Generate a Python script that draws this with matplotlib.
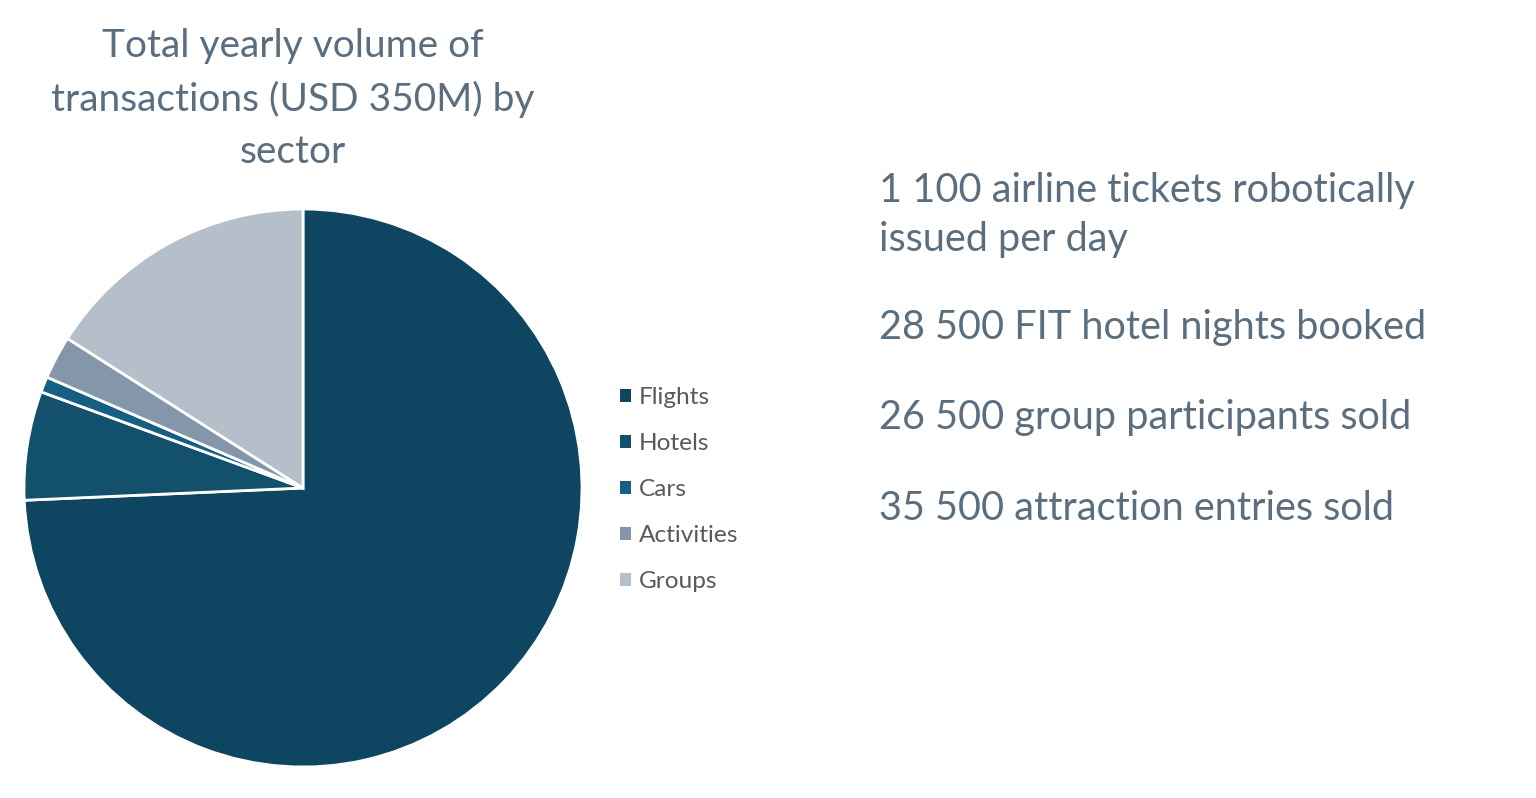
import matplotlib.pyplot as plt

# sector shares of yearly transaction volume (percent)
sectors = ["Flights", "Hotels", "Cars", "Activities", "Groups"]
shares = [74.3, 6.3, 0.9, 2.5, 16.0]
colors = ["#0e4560", "#12506c", "#156082", "#8497aa", "#b4bfc9"]

title = "Total yearly volume of\ntransactions (USD 350M) by\nsector"
facts = [
    "1 100 airline tickets robotically\nissued per day",
    "28 500 FIT hotel nights booked",
    "26 500 group participants sold",
    "35 500 attraction entries sold",
]
fact_y = [215, 327, 417, 509]  # pixel rows of each text block's centre

W, H = 1536, 798
text_col = "#5a6e80"
plt.rcParams['font.family'] = ['Lato', 'DejaVu Sans']

fig = plt.figure(figsize=(W / 100, H / 100), dpi=100)

# pie axes, centre ~ (303, 488) px, radius ~279 px
cx, cy, r = 303, 488, 279
ax = fig.add_axes([(cx - 280) / W, (H - cy - 280) / H, 560 / W, 560 / H])
wedges, _ = ax.pie(shares, colors=colors, startangle=90, counterclock=False,
                   radius=1, wedgeprops=dict(edgecolor="white", linewidth=2.0))
lim = 280 / r
ax.set_xlim(-lim, lim)
ax.set_ylim(-lim, lim)
ax.set_aspect("equal")
ax.axis("off")

fig.text(293 / W, 1 - 99 / H, title, ha="center", va="center",
         fontsize=28, color=text_col, linespacing=1.56)

leg = fig.legend(wedges, sectors, loc="upper left",
                 bbox_to_anchor=(608 / W, 1 - 375 / H), frameon=False,
                 fontsize=17.6, handlelength=0.45, handleheight=0.45,
                 handletextpad=0.3, labelspacing=1.02, borderpad=0)
for t in leg.get_texts():
    t.set_color("#595959")
for h in leg.legend_handles:
    h.set_edgecolor("none")

for txt, y in zip(facts, fact_y):
    fig.text(879 / W, 1 - y / H, txt, ha="left", va="center",
             fontsize=28.5, color=text_col, linespacing=1.37)

fig.savefig("out.png", dpi=100)
